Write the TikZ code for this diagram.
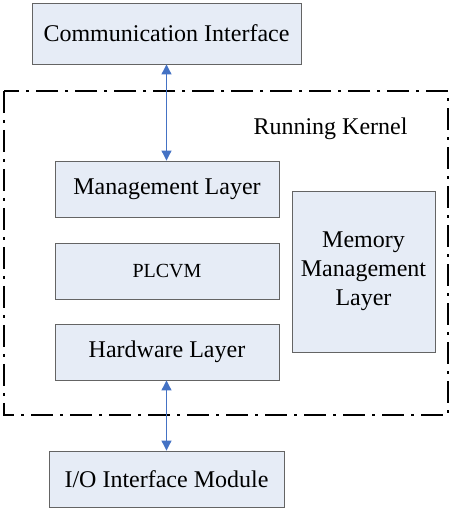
\documentclass[tikz,border=0pt]{standalone}
\usepackage{fontspec}
\setmainfont{Liberation Serif}
\usetikzlibrary{arrows.meta}
\definecolor{boxfill}{RGB}{230,236,246}
\definecolor{boxline}{RGB}{100,100,100}
\definecolor{arrowblue}{RGB}{68,114,196}
\begin{document}
\begin{tikzpicture}[x=1pt,y=1pt,
  layerbox/.style={draw=boxline, line width=0.9pt, fill=boxfill, inner sep=0pt, align=center, font=\fontsize{24}{27}\selectfont},
  link/.style={draw=arrowblue, line width=1.1pt, {Triangle[width=10pt,length=10pt]}-{Triangle[width=10pt,length=10pt]}, color=arrowblue}
]
\useasboundingbox (0,0) rectangle (454,512);
\draw[line width=2.6pt, dash pattern=on 22pt off 7pt on 3pt off 7pt] (4,421) rectangle (448,97);
\node[anchor=base] (rk) at (330.5,377) {\fontsize{24}{27}\selectfont Running Kernel};
\node[layerbox, minimum width=269pt, minimum height=61pt] (comm) at (166.5,478.5) {Communication Interface};
\node[layerbox, minimum width=224pt, minimum height=56pt] (mgmt) at (167,323) {Management Layer};
\node[layerbox, minimum width=224pt, minimum height=56pt, font=\fontsize{20}{24}\selectfont] (plc) at (167,241) {PLCVM};
\node[layerbox, minimum width=224pt, minimum height=56pt] (hw) at (167,160) {Hardware Layer};
\node[layerbox, minimum width=143pt, minimum height=161pt, font=\fontsize{24}{29}\selectfont] (mem) at (363.5,240.5) {Memory\\Management\\Layer};
\node[layerbox, minimum width=235pt, minimum height=56pt] (io) at (166.5,33) {I/O Interface Module};
\draw[link] (comm.south) -- (comm.south |- mgmt.north);
\draw[link] (hw.south -| comm.south) -- (comm.south |- io.north);
\end{tikzpicture}
\end{document}
